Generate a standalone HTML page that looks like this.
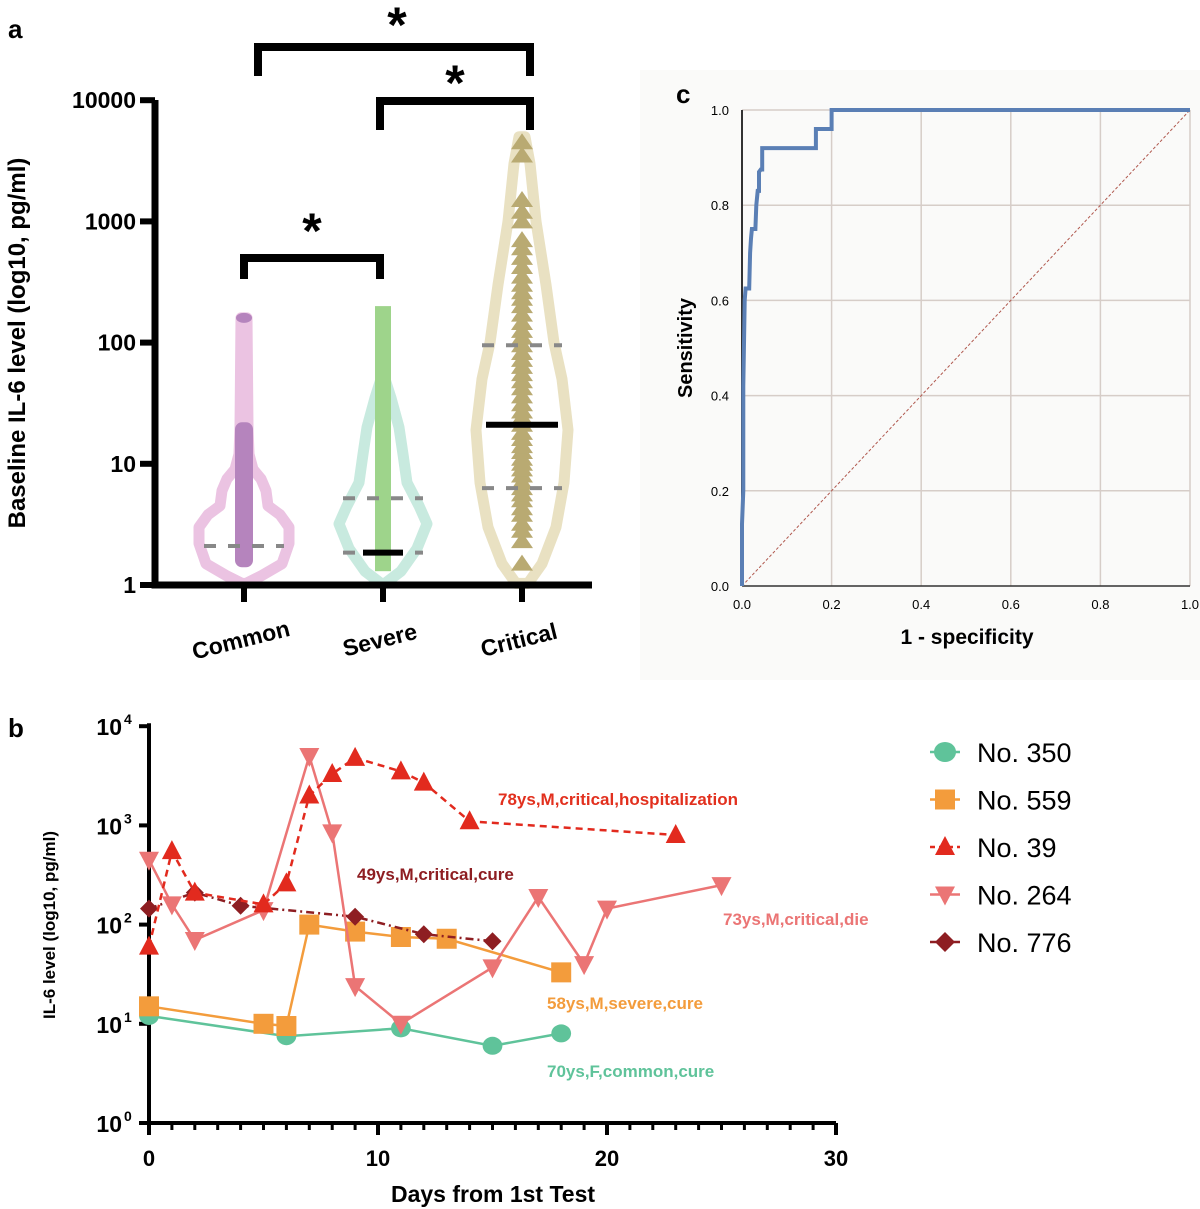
<!DOCTYPE html>
<html><head><meta charset="utf-8"><style>
body{margin:0;background:#fff}
svg{display:block}
text{font-family:"Liberation Sans",Arial,sans-serif}
</style></head><body>
<svg id="s" width="1200" height="1209" viewBox="0 0 1200 1209" xmlns="http://www.w3.org/2000/svg">
<rect x="0" y="0" width="1200" height="1209" fill="#fff"/>
<rect x="640" y="70" width="560" height="610" fill="#fafaf9"/>
<g id="pa"></g>
<g id="pc"></g>
<g id="pb"></g>
</svg>
<script>
const NS='http://www.w3.org/2000/svg';
function mk(parent,tag,attrs,txt){const e=document.createElementNS(NS,tag);for(const k in attrs)e.setAttribute(k,attrs[k]);if(txt!==undefined)e.textContent=txt;parent.appendChild(e);return e;}

/* ---------- Panel a data ---------- */
const aCategories=['Common','Severe','Critical'];
const aTicks=[1,10,100,1000,10000];
const aCommonShape=[[1.03,2],[1.2,18],[1.5,38],[2.2,45],[3,45],[3.8,36],[4.5,24],[6,22],[7.5,17],[9,9],[12,5],[20,4],[160,3]];
const aSevereShape=[[1.03,2],[1.3,18],[2,34],[3.2,44],[4.5,36],[7,24],[12,20],[20,16],[35,8],[50,2]];
const aCriticalShape=[[1.03,6],[1.5,20],[3,34],[7,42],[19,46],[50,40],[100,32],[300,24],[1000,14],[3000,8],[5000,3]];
const aCommonRange=[1.4,22];
const aCommonMax=160;
const aSevereRange=[1.3,200];
const aCriticalPoints=[1.5,2.3,2.8,3.2,3.8,4.3,5,5.6,6.3,7,8,9,10,11,12.5,14,16,18,21,24,27,31,36,42,48,55,63,72,82,95,110,125,145,170,200,230,260,300,350,420,500,600,700,1000,1200,1500,3500,4500];
const aMedians=[null,1.85,21];
const aQ1=[2.1,1.85,6.3];
const aQ3=[2.1,5.2,95];

const pa=document.getElementById('pa');
const ay=v=>585-121.2*Math.log10(v);
const ax=i=>[244,383,522][i];

function violin(shape,cx,color,name){
  let pts=shape.map(p=>[cx+p[1],ay(p[0])]);
  let left=shape.slice().reverse().map(p=>[cx-p[1],ay(p[0])]);
  let d='M'+pts.concat(left).map(p=>p[0].toFixed(1)+','+p[1].toFixed(1)).join(' L')+' Z';
  const e=mk(pa,'path',{d:d,fill:'none',stroke:color,'stroke-width':11,'stroke-linejoin':'round'});
  
  
}
violin(aCommonShape,ax(0),'#ebc3e2','violin-common');
violin(aSevereShape,ax(1),'#c8eadf','violin-severe');
violin(aCriticalShape,ax(2),'#e9e1c2','violin-critical');

let e=mk(pa,'line',{x1:ax(0),x2:ax(0),y1:ay(aCommonRange[1]),y2:ay(aCommonMax),stroke:'#ebc3e2','stroke-width':8});

e=mk(pa,'rect',{x:ax(0)-9,y:ay(aCommonRange[1]),width:18,height:ay(aCommonRange[0])-ay(aCommonRange[1]),rx:7,fill:'#b584bd'});

e=mk(pa,'ellipse',{cx:ax(0),cy:ay(aCommonMax),rx:8,ry:5,fill:'#b584bd'});

e=mk(pa,'rect',{x:ax(1)-8,y:ay(aSevereRange[1]),width:16,height:ay(aSevereRange[0])-ay(aSevereRange[1]),fill:'#9ed48b'});

aCriticalPoints.forEach(v=>{const y=ay(v),x=ax(2);
  const t=mk(pa,'polygon',{points:`${x},${y-9} ${x-11},${y+7} ${x+11},${y+7}`,fill:'#b9aa72'});
  });
aCategories.forEach((c,i)=>{
  [aQ1[i],aQ3[i]].forEach(q=>{const l=mk(pa,'line',{x1:ax(i)-40,x2:ax(i)+40,y1:ay(q),y2:ay(q),stroke:'#888','stroke-width':4,'stroke-dasharray':'12 12'});
    });
  if(aMedians[i]!==null){
  const m=mk(pa,'line',{x1:ax(i)-(i==2?36:20),x2:ax(i)+(i==2?36:20),y1:ay(aMedians[i]),y2:ay(aMedians[i]),stroke:'#000','stroke-width':6});
  }
});
e=mk(pa,'path',{d:'M155,100 L155,585 L592,585',fill:'none',stroke:'#000','stroke-width':7});

aTicks.forEach(v=>{const t=mk(pa,'line',{x1:140,x2:155,y1:ay(v),y2:ay(v),stroke:'#000','stroke-width':6});
  
  const l=mk(pa,'text',{x:136,y:ay(v)+8,'text-anchor':'end','font-size':23,'font-weight':'bold'},String(v));
  });
aCategories.forEach((c,i)=>{const t=mk(pa,'line',{x1:ax(i),x2:ax(i),y1:585,y2:602,stroke:'#000','stroke-width':6});
  
  const l=mk(pa,'text',{x:ax(i)-3,y:647,'text-anchor':'middle','font-size':23,'font-weight':'bold',transform:`rotate(-14 ${ax(i)} 640)`},c);
  });
e=mk(pa,'text',{x:0,y:0,'text-anchor':'middle','font-size':24,'font-weight':'bold',transform:'translate(25,343) rotate(-90)'},'Baseline IL-6 level (log10, pg/ml)');

e=mk(pa,'text',{x:8,y:38,'font-size':26,'font-weight':'bold'},'a');

function bracket(x1,x2,yTop,yBot,sx,sy,name){
  const b=mk(pa,'path',{d:`M${x1},${yBot} L${x1},${yTop} L${x2},${yTop} L${x2},${yBot}`,fill:'none',stroke:'#000','stroke-width':8});
  
  const s=mk(pa,'text',{x:sx,y:sy,'text-anchor':'middle','font-size':50,'font-weight':'bold'},'*');
  
}
bracket(244,380,258,279,312,248,'bracket-common-severe');
bracket(380,530,101,130,455,100,'bracket-severe-critical');
bracket(258,530,47,76,397,42,'bracket-common-critical');

/* ---------- Panel c data ---------- */
const cTicks=[0,0.2,0.4,0.6,0.8,1.0];
const cFpr=[0,0,0.003,0.003,0.006,0.008,0.016,0.018,0.02,0.022,0.03,0.032,0.035,0.038,0.038,0.042,0.045,0.045,0.165,0.165,0.2,0.2,1];
const cTpr=[0,0.13,0.2,0.42,0.6,0.625,0.625,0.7,0.73,0.75,0.75,0.8,0.83,0.83,0.87,0.875,0.875,0.92,0.92,0.96,0.96,1,1];
const pc=document.getElementById('pc');
const cx=v=>742+448*v, cy=v=>586-476*v;
cTicks.forEach(t=>{
  if(t>0){let g=mk(pc,'line',{x1:cx(t),x2:cx(t),y1:cy(0),y2:cy(1),stroke:'#d6cdc8','stroke-width':1.5});
  
  g=mk(pc,'line',{x1:cx(0),x2:cx(1),y1:cy(t),y2:cy(t),stroke:'#d6cdc8','stroke-width':1.5});
  }
  let l=mk(pc,'text',{x:cx(t),y:609,'text-anchor':'middle','font-size':13},t.toFixed(1));
  
  l=mk(pc,'text',{x:729,y:cy(t)+5,'text-anchor':'end','font-size':13},t.toFixed(1));
  
});
e=mk(pc,'line',{x1:cx(0),x2:cx(1),y1:cy(0),y2:cy(0),stroke:'#333','stroke-width':1.5});

e=mk(pc,'line',{x1:cx(0),x2:cx(0),y1:cy(0),y2:cy(1),stroke:'#333','stroke-width':2});

e=mk(pc,'line',{x1:cx(0),x2:cx(1),y1:cy(0),y2:cy(1),stroke:'#b0584e','stroke-width':1,'stroke-dasharray':'3 2'});

e=mk(pc,'polyline',{points:cFpr.map((f,i)=>cx(f).toFixed(1)+','+cy(cTpr[i]).toFixed(1)).join(' '),fill:'none',stroke:'#5a7fb5','stroke-width':4});

e=mk(pc,'text',{x:967,y:644,'text-anchor':'middle','font-size':21,'font-weight':'bold'},'1 - specificity');

e=mk(pc,'text',{x:0,y:0,'text-anchor':'middle','font-size':20,'font-weight':'bold',transform:'translate(692,348) rotate(-90)'},'Sensitivity');

e=mk(pc,'text',{x:676,y:103,'font-size':26,'font-weight':'bold'},'c');


/* ---------- Panel b data ---------- */
const bXTicks=[0,10,20,30];
const bYExp=[0,1,2,3,4];
const d350=[0,6,11,15,18], v350=[12,7.5,9,6,8];
const d559=[0,5,6,7,9,11,13,18], v559=[15,10,9.5,100,85,75,72,33];
const d39=[0,1,2,5,6,7,8,9,11,12,14,23], v39=[60,550,210,160,260,2000,3300,4800,3500,2700,1100,800];
const d264=[0,1,2,5,7,8,9,11,15,17,19,20,25], v264=[450,160,70,140,5000,850,24,10,37,190,40,145,250];
const d776=[0,2,4,9,12,15], v776=[145,210,155,120,80,68];
const pb=document.getElementById('pb');
const bx=d=>149+22.9*d, by=v=>1123-99.2*Math.log10(v);

e=mk(pb,'path',{d:`M${bx(0)},${by(10000)-3} L${bx(0)},${by(1)} L${bx(30)},${by(1)}`,fill:'none',stroke:'#000','stroke-width':4});

for(let d=0;d<=30;d++){const major=d%10==0;
  const t=mk(pb,'line',{x1:bx(d),x2:bx(d),y1:by(1),y2:by(1)+(major?12:7),stroke:'#000','stroke-width':major?4:3});
  }
bXTicks.forEach(d=>{const l=mk(pb,'text',{x:bx(d),y:1166,'text-anchor':'middle','font-size':22,'font-weight':'bold'},String(d));
  });
bYExp.forEach(k=>{const y=by(Math.pow(10,k));
  const t=mk(pb,'line',{x1:bx(0)-10,x2:bx(0),y1:y,y2:y,stroke:'#000','stroke-width':4});
  
  const l=mk(pb,'text',{x:122,y:y+9,'text-anchor':'end','font-size':23,'font-weight':'bold'},'10');
  
  const s=mk(pb,'text',{x:124,y:y-2,'font-size':14,'font-weight':'bold'},String(k));
  });
e=mk(pb,'text',{x:493,y:1202,'text-anchor':'middle','font-size':23,'font-weight':'bold'},'Days from 1st Test');

e=mk(pb,'text',{x:0,y:0,'text-anchor':'middle','font-size':17,'font-weight':'bold',transform:'translate(55,925) rotate(-90)'},'IL-6 level (log10, pg/ml)');

e=mk(pb,'text',{x:8,y:737,'font-size':26,'font-weight':'bold'},'b');


function marker(g,type,x,y,c,s){
  if(type=='circle')return mk(g,'ellipse',{cx:x,cy:y,rx:s*1.1,ry:s,fill:c});
  if(type=='square')return mk(g,'rect',{x:x-s,y:y-s,width:2*s,height:2*s,fill:c});
  if(type=='up')return mk(g,'polygon',{points:`${x},${y-s*1.1} ${x-s},${y+s*0.8} ${x+s},${y+s*0.8}`,fill:c});
  if(type=='down')return mk(g,'polygon',{points:`${x},${y+s*1.1} ${x-s},${y-s*0.8} ${x+s},${y-s*0.8}`,fill:c});
  return mk(g,'polygon',{points:`${x},${y-s} ${x+s},${y} ${x},${y+s} ${x-s},${y}`,fill:c});
}
function series(days,vals,color,dash,type,size,name){
  const g=mk(pb,'g',{});
  
  const l=mk(g,'polyline',{points:days.map((d,i)=>bx(d).toFixed(1)+','+by(vals[i]).toFixed(1)).join(' '),fill:'none',stroke:color,'stroke-width':2.5,'stroke-dasharray':dash});
  
  days.forEach((d,i)=>{const m=marker(g,type,bx(d),by(vals[i]),color,size);
    });
}
series(d350,v350,'#5fc39a','none','circle',9,'series-no-350');
series(d559,v559,'#f39c3c','none','square',10,'series-no-559');
series(d776,v776,'#8e1e22','8 4 2 4','diamond',9,'series-no-776');
series(d264,v264,'#eb7575','none','down',10,'series-no-264');
series(d39,v39,'#e22a1e','7 5','up',10,'series-no-39');

const ann=[['78ys,M,critical,hospitalization',498,805,'#e2301e'],['49ys,M,critical,cure',357,880,'#8e1e22'],['73ys,M,critical,die',723,925,'#eb7575'],['58ys,M,severe,cure',547,1009,'#f39c3c'],['70ys,F,common,cure',547,1077,'#5fc39a']];
ann.forEach(a=>{const t=mk(pb,'text',{x:a[1],y:a[2],'font-size':17,'font-weight':'bold',fill:a[3]},a[0]);
  });

const legNames=['No. 350','No. 559','No. 39','No. 264','No. 776'];
const legColors=['#5fc39a','#f39c3c','#e22a1e','#eb7575','#8e1e22'];
const legTypes=['circle','square','up','down','diamond'];
legNames.forEach((n,i)=>{const y=752+47.5*i;
  const g=mk(pb,'g',{});
  
  mk(g,'line',{x1:930,x2:960,y1:y,y2:y,stroke:legColors[i],'stroke-width':2.5,'stroke-dasharray':i==2?'5 4':'none'});
  marker(g,legTypes[i],945,y,legColors[i],10);
  mk(g,'text',{x:977,y:y+10,'font-size':27},n);
});
</script>
</body></html>
